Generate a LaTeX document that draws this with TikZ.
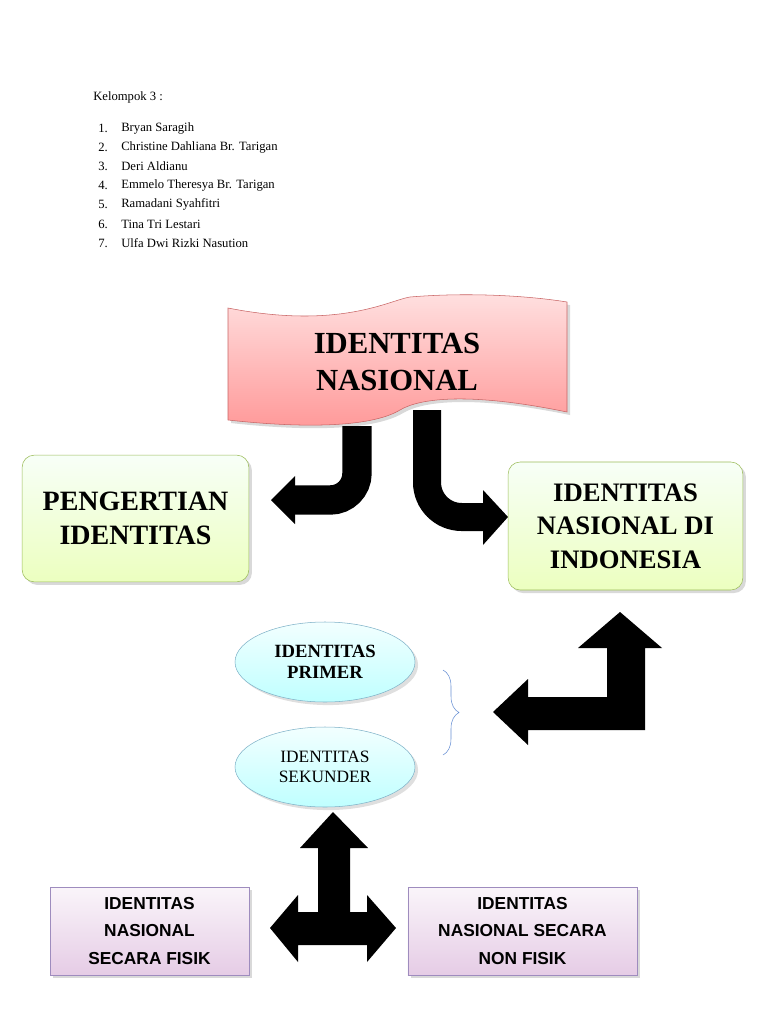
\documentclass[tikz,border=0pt]{standalone}
\usepackage{fontspec}
\setmainfont{Liberation Serif}
\newfontfamily\sansbf{Liberation Sans}
\usetikzlibrary{shapes.geometric,shadows,decorations.pathreplacing}
\definecolor{pinkedge}{HTML}{C86464}
\definecolor{greenedge}{HTML}{9BBB59}
\definecolor{blueedge}{HTML}{7FB2C8}
\definecolor{purpleedge}{HTML}{9E8CBE}

\begin{document}
\begin{tikzpicture}[x=0.75pt, y=-0.75pt,
	listitem/.style={anchor=west, font=\fontsize{9.5}{11}\selectfont, inner sep=0pt},
	greenbox/.style={draw=greenedge, rounded corners=9pt, top color=green!3!white, bottom color=green!30!yellow!25!white, align=center, drop shadow={opacity=0.3}},
	bluebubble/.style={ellipse, draw=blueedge, top color=cyan!5!white, bottom color=cyan!25!white, align=center, minimum width=135pt, minimum height=60pt, inner sep=0pt, drop shadow={opacity=0.25}},
	purplebox/.style={draw=purpleedge, top color=violet!4!white, bottom color=violet!20!white, align=center, minimum height=66pt, font=\sansbf\fontsize{13}{20.5}\selectfont\bfseries, drop shadow={opacity=0.3}},
	blockarrow/.style={fill=black}]
	\useasboundingbox (0,0) rectangle (768,1024);

	\node[listitem] (title) at (93,97) {Kelompok 3 :};
	\foreach \n/\who in {1/Bryan Saragih, 2/Christine Dahliana Br. Tarigan, 3/Deri Aldianu, 4/Emmelo Theresya Br. Tarigan, 5/Ramadani Syahfitri, 6/Tina Tri Lestari, 7/Ulfa Dwi Rizki Nasution}{
		\node[listitem] (num\n) at (98,{128+(\n-1)*19.2}) {\n.};
		\node[listitem] (name\n) at (121,{128+(\n-1)*19.2}) {\who};
	}

	% banner
	\draw[pinkedge, top color=red!12!white, bottom color=red!40!white, drop shadow={opacity=0.3}]
		(228,308) .. controls (340,330) and (390,300) .. (410,297)
		.. controls (470,292) and (530,296) .. (567,302) -- (567,412)
		.. controls (470,392) and (420,398) .. (400,410)
		.. controls (370,428) and (300,428) .. (228,420) -- cycle;
	\node[align=center, font=\fontsize{23}{28}\selectfont\bfseries] (nasional) at (397,362) {IDENTITAS\\NASIONAL};

	% curved arrows from banner
	\draw[line width=22pt, rounded corners=20pt] (357,426) -- (357,500) -- (294,500);
	\fill[blockarrow] (295,476) -- (271,500) -- (295,524) -- cycle;
	\draw[line width=21pt, rounded corners=26pt] (427,410) -- (427,517) -- (484,517);
	\fill[blockarrow] (483,490) -- (508,517) -- (483,545) -- cycle;

	\node[greenbox, minimum width=170pt, minimum height=95pt, font=\fontsize{21}{26}\selectfont\bfseries] (pengertian) at (135.5,518.5) {PENGERTIAN\\IDENTITAS};
	\node[greenbox, minimum width=176pt, minimum height=96pt, font=\fontsize{20}{25}\selectfont\bfseries] (indonesia) at (625.5,526) {IDENTITAS\\NASIONAL DI\\INDONESIA};

	\node[bluebubble, font=\fontsize{14}{16}\selectfont\bfseries] (primer) at (325,662) {IDENTITAS\\PRIMER};
	\node[bluebubble, font=\fontsize{13}{15}\selectfont] (sekunder) at (325,767) {IDENTITAS\\SEKUNDER};
	\draw[blueedge!80!blue, decorate, decoration={brace, amplitude=12pt}] (443,670) -- (443,755);

	% L arrow up to indonesia
	\fill[blockarrow] (493,712) -- (528,679) -- (528,697) -- (607,697) -- (607,648) -- (578,648) -- (620,612)
		-- (662,648) -- (645,648) -- (645,730) -- (528,730) -- (528,745) -- cycle;

	% T arrow
	\fill[blockarrow] (333,812) -- (368,848) -- (350,848) -- (350,912) -- (367,912) -- (367,895) -- (396,928)
		-- (367,962) -- (367,945) -- (298,945) -- (298,962) -- (270,928) -- (298,895) -- (298,912)
		-- (318,912) -- (318,848) -- (300,848) -- cycle;

	\node[purplebox, minimum width=149pt] (fisik) at (149.5,931) {IDENTITAS\\NASIONAL\\SECARA FISIK};
	\node[purplebox, minimum width=172pt] (nonfisik) at (522.5,931) {IDENTITAS\\NASIONAL SECARA\\NON FISIK};
\end{tikzpicture}
\end{document}
